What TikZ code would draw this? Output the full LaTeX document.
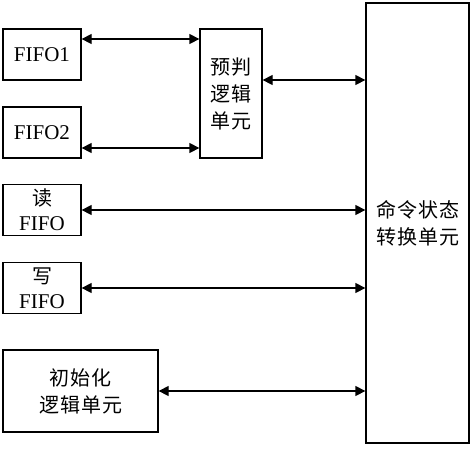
\documentclass[tikz,border=0pt]{standalone}
\usepackage{fontspec}
\setmainfont{Liberation Serif}
\newfontfamily\cjk[LetterSpace = 5]{Noto Sans CJK SC}
\usetikzlibrary{arrows.meta}

\begin{document}
\begin{tikzpicture}[x = 1pt, y = -1pt, line width = 1.3pt,
                    >= {Triangle[length = 10pt, width = 10pt]},
                    unit/.style = {draw, align = center, inner sep = 0pt,
                                   font = \fontsize{21}{25}\selectfont},
                    fifo/.style = {unit, minimum width = 78pt, minimum height = 51pt}]
  \useasboundingbox (0, 0) rectangle (474, 448);

  \node [fifo] (F1) at (42, 54.5) {FIFO1};
  \node [fifo] (F2) at (42, 132.5) {FIFO2};
  \node [fifo] (RD) at (42, 210) {{\cjk\fontsize{20}{25}\selectfont 读}\\FIFO};
  \node [fifo] (WR) at (42, 288) {{\cjk\fontsize{20}{25}\selectfont 写}\\FIFO};
  \node [unit, minimum width = 62pt, minimum height = 129pt,
         font = \cjk\fontsize{20}{27}\selectfont] (PRE) at (231, 93.5) {预判\\逻辑\\单元};
  \node [unit, minimum width = 155pt, minimum height = 82pt,
         font = \cjk\fontsize{20}{27}\selectfont] (INIT) at (80.5, 391) {初始化\\逻辑单元};
  \node [unit, minimum width = 103pt, minimum height = 440pt,
         font = \cjk\fontsize{20}{27}\selectfont] (CMD) at (417.5, 223) {命令状态\\转换单元};

  \draw [<->] ([yshift = 15.5pt]F1.east) -- ([yshift = 15.5pt]F1.east -| PRE.west);
  \draw [<->] ([yshift = -15.5pt]F2.east) -- ([yshift = -15.5pt]F2.east -| PRE.west);
  \draw [<->] ([yshift = 13.5pt]PRE.east) -- ([yshift = 13.5pt]PRE.east -| CMD.west);
  \draw [<->] (RD.east) -- (RD.east -| CMD.west);
  \draw [<->] (WR.east) -- (WR.east -| CMD.west);
  \draw [<->] (INIT.east) -- (INIT.east -| CMD.west);
\end{tikzpicture}
\end{document}
